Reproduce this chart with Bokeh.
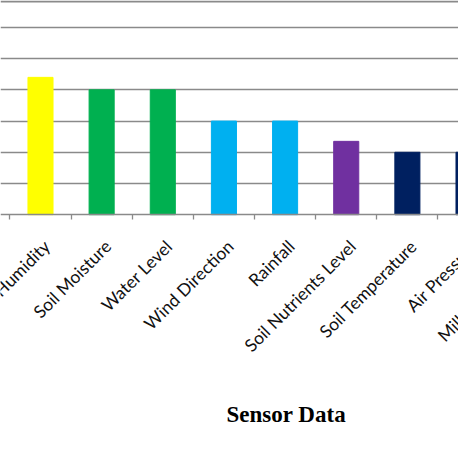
from bokeh.core.properties import value
from bokeh.embed import file_html
from bokeh.models import ColumnDataSource, FixedTicker, Range1d, Span
from bokeh.plotting import figure
from bokeh.resources import INLINE

# values (one grid step = 1 unit)
categories = ["Humidity", "Soil Moisture", "Water Level", "Wind Direction", "Rainfall",
              "Soil Nutrients Level", "Soil Temperature", "Air Pressure", "Milk Temperature"]
values = [4.4, 4.0, 4.0, 3.0, 3.0, 2.35, 2.0, 2.0, 2.0]
colors = ["#FFFF00", "#00B050", "#00B050", "#00B0F0", "#00B0F0",
          "#7030A0", "#002060", "#002060", "#002060"]
grid_ticks = [1, 2, 3, 4, 5, 6]
axis_title = "Sensor Data"

positions = list(range(1, len(categories) + 1))
boundaries = [x - 0.5 for x in positions] + [positions[-1] + 0.5]

GRAY = "#8A8A8A"

p = figure(
    width=458,
    height=458,
    x_range=Range1d(0.346, 7.836),
    y_range=Range1d(-7.171, 6.863),
    y_axis_location=None,
    output_backend="svg",
    toolbar_location=None,
    min_border=0,
    min_border_bottom=20,
)
p.outline_line_color = None
p.background_fill_color = "white"
p.border_fill_color = "white"

p.xgrid.grid_line_color = None
p.ygrid.ticker = FixedTicker(ticks=grid_ticks)
p.ygrid.grid_line_color = GRAY
p.ygrid.grid_line_width = 1.3

# category axis drawn at zero, excel style ticks between the bars
p.xaxis.fixed_location = 0
p.xaxis.ticker = FixedTicker(ticks=[], minor_ticks=boundaries)
p.xaxis.axis_line_color = GRAY
p.xaxis.axis_line_width = 1.5
p.xaxis.major_tick_line_color = None
p.xaxis.major_label_text_font_size = "0px"
p.xaxis.minor_tick_line_color = GRAY
p.xaxis.minor_tick_line_width = 1.3
p.xaxis.minor_tick_in = 0
p.xaxis.minor_tick_out = 5

# border line of the chart area
p.add_layout(Span(location=6.83, dimension="width", line_color=GRAY, line_width=2))

src = ColumnDataSource(data=dict(x=positions, top=values, color=colors,
                                 name=categories, zero=[0] * len(categories)))
p.vbar(x="x", top="top", width=0.41, color="color", source=src)

p.text(x="x", y="zero", text="name", source=src,
       angle=45, angle_units="deg", x_offset=6.3, y_offset=28.5,
       text_align="right", text_baseline="alphabetic",
       text_font=value("Lato"), text_font_size="17.5px", text_color="#111111")

p.text(x=[5.02], y=[0], text=[axis_title], y_offset=200,
       text_align="center", text_baseline="middle",
       text_font=value("Liberation Serif"), text_font_style="bold",
       text_font_size="23px", text_color="black")

open("out.html", "w").write(file_html(p, INLINE))
